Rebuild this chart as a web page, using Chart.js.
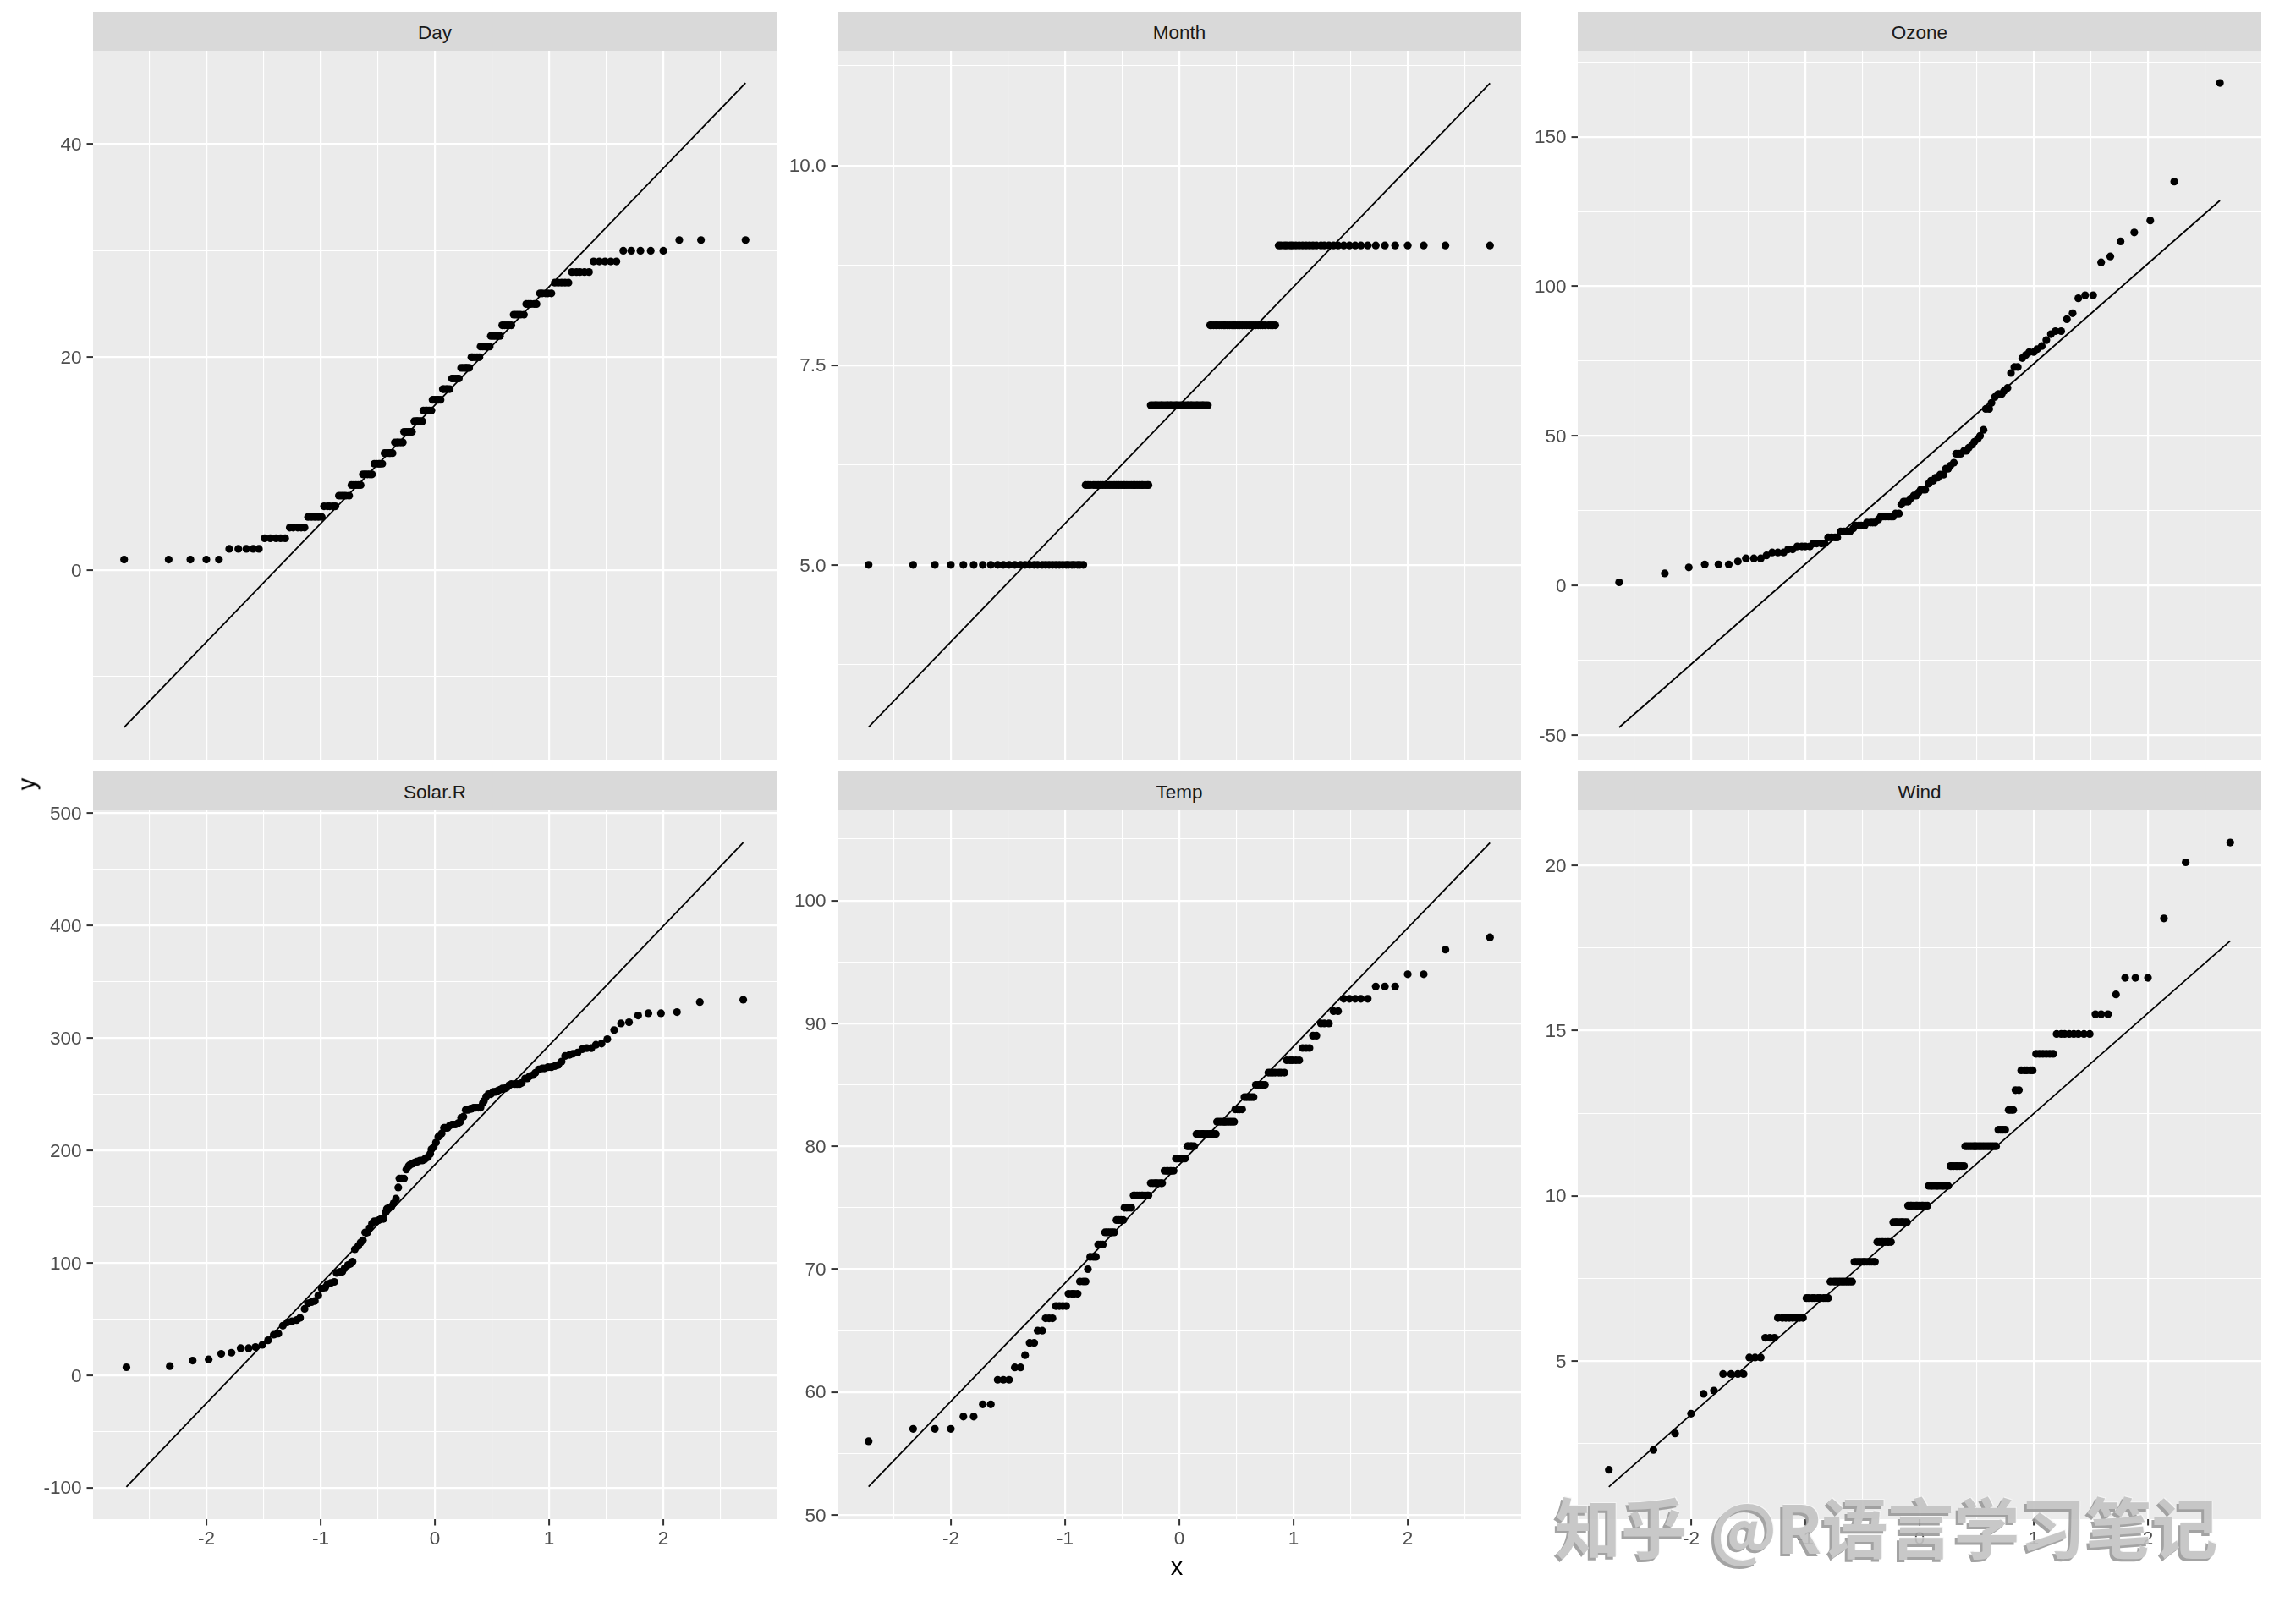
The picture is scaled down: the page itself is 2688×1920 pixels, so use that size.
<!DOCTYPE html>
<html><head><meta charset="utf-8">
<script src="https://cdn.jsdelivr.net/npm/chart.js@4.4.1/dist/chart.umd.min.js"></script>
<style>
html,body{margin:0;padding:0;background:#fff;width:2688px;height:1920px;overflow:hidden;position:relative;font-family:"Liberation Sans",Arial,sans-serif;}
.strip{position:absolute;background:#D9D9D9;color:#1A1A1A;font-size:22.5px;text-align:center;line-height:46px;height:46px;padding-top:2px;box-sizing:border-box;}
canvas{position:absolute;}
.title{position:absolute;color:#000;font-size:29px;line-height:29px;white-space:nowrap;}
.wm{position:absolute;left:1838px;top:1764px;font-family:"Noto Sans CJK SC",sans-serif;font-weight:700;font-size:78px;line-height:78px;color:#c2c2c2;white-space:nowrap;opacity:0.9;word-spacing:10px;text-shadow:-3px 3px 0 #9a9a9a,1px -1px 0 #f6f6f6;}
</style></head><body>
<script>
// ---- theoretical normal quantiles (x) for n = 153, 116, 146 ----
const q153 = [-2.72,-2.33,-2.14,-2.00,-1.89,-1.80,-1.72,-1.65,-1.59,-1.54,-1.49,-1.44,
-1.39,-1.35,-1.31,-1.27,-1.24,-1.20,-1.17,-1.14,-1.11,-1.08,-1.05,-1.02,
-0.99,-0.97,-0.94,-0.92,-0.89,-0.87,-0.84,-0.82,-0.80,-0.78,-0.75,-0.73,
-0.71,-0.69,-0.67,-0.65,-0.63,-0.61,-0.59,-0.57,-0.55,-0.53,-0.51,-0.49,
-0.48,-0.46,-0.44,-0.42,-0.40,-0.39,-0.37,-0.35,-0.33,-0.32,-0.30,-0.28,
-0.27,-0.25,-0.23,-0.21,-0.20,-0.18,-0.16,-0.15,-0.13,-0.11,-0.10,-0.08,
-0.07,-0.05,-0.03,-0.02,0.00,0.02,0.03,0.05,0.07,
0.08,0.10,0.11,0.13,0.15,0.16,0.18,0.20,0.21,0.23,0.25,0.27,
0.28,0.30,0.32,0.33,0.35,0.37,0.39,0.40,0.42,0.44,0.46,0.48,
0.49,0.51,0.53,0.55,0.57,0.59,0.61,0.63,0.65,0.67,0.69,0.71,
0.73,0.75,0.78,0.80,0.82,0.84,0.87,0.89,0.92,0.94,0.97,0.99,
1.02,1.05,1.08,1.11,1.14,1.17,1.20,1.24,1.27,1.31,1.35,1.39,
1.44,1.49,1.54,1.59,1.65,1.72,1.80,1.89,2.00,2.14,2.33,2.72];
const q116 = [-2.63,-2.23,-2.02,-1.88,-1.76,-1.67,-1.59,-1.52,-1.45,-1.39,-1.34,-1.29,
-1.24,-1.19,-1.15,-1.11,-1.07,-1.03,-1.00,-0.96,-0.93,-0.90,-0.86,-0.83,
-0.80,-0.77,-0.74,-0.72,-0.69,-0.66,-0.63,-0.61,-0.58,-0.56,-0.53,-0.51,
-0.48,-0.46,-0.43,-0.41,-0.39,-0.36,-0.34,-0.32,-0.30,-0.27,-0.25,-0.23,
-0.21,-0.18,-0.16,-0.14,-0.12,-0.10,-0.08,-0.05,-0.03,-0.01,
0.01,0.03,0.05,0.08,0.10,0.12,0.14,0.16,0.18,0.21,
0.23,0.25,0.27,0.30,0.32,0.34,0.36,0.39,0.41,0.43,0.46,0.48,
0.51,0.53,0.56,0.58,0.61,0.63,0.66,0.69,0.72,0.74,0.77,0.80,
0.83,0.86,0.90,0.93,0.96,1.00,1.03,1.07,1.11,1.15,1.19,1.24,
1.29,1.34,1.39,1.45,1.52,1.59,1.67,1.76,1.88,2.02,2.23,2.63];
const q146 = [-2.70,-2.32,-2.12,-1.98,-1.87,-1.78,-1.70,-1.63,-1.57,-1.51,-1.46,-1.41,
-1.37,-1.33,-1.29,-1.25,-1.21,-1.18,-1.14,-1.11,-1.08,-1.05,-1.02,-0.99,
-0.96,-0.94,-0.91,-0.88,-0.86,-0.83,-0.81,-0.79,-0.76,-0.74,-0.72,-0.70,
-0.67,-0.65,-0.63,-0.61,-0.59,-0.57,-0.55,-0.53,-0.51,-0.49,-0.47,-0.45,
-0.43,-0.42,-0.40,-0.38,-0.36,-0.34,-0.32,-0.31,-0.29,-0.27,-0.25,-0.23,
-0.22,-0.20,-0.18,-0.16,-0.15,-0.13,-0.11,-0.09,-0.08,-0.06,-0.04,-0.03,
-0.01,0.01,
0.03,0.04,0.06,0.08,0.09,0.11,0.13,0.15,0.16,0.18,0.20,0.22,
0.23,0.25,0.27,0.29,0.31,0.32,0.34,0.36,0.38,0.40,0.42,0.43,
0.45,0.47,0.49,0.51,0.53,0.55,0.57,0.59,0.61,0.63,0.65,0.67,
0.70,0.72,0.74,0.76,0.79,0.81,0.83,0.86,0.88,0.91,0.94,0.96,
0.99,1.02,1.05,1.08,1.11,1.14,1.18,1.21,1.25,1.29,1.33,1.37,
1.41,1.46,1.51,1.57,1.63,1.70,1.78,1.87,1.98,2.12,2.32,2.70];

// ---- sample values (y), sorted ----
const dayY = [1,1,1,1,1,2,2,2,2,2,3,3,3,3,3,4,4,4,4,4,5,5,5,5,5,6,6,6,6,6,7,7,7,7,7,8,8,8,8,8,9,9,9,9,9,10,10,10,10,10,
11,11,11,11,11,12,12,12,12,12,13,13,13,13,13,14,14,14,14,14,15,15,15,15,15,16,16,16,16,16,17,17,17,17,17,18,18,18,18,18,
19,19,19,19,19,20,20,20,20,20,21,21,21,21,21,22,22,22,22,22,23,23,23,23,23,24,24,24,24,24,25,25,25,25,25,26,26,26,26,26,
27,27,27,27,27,28,28,28,28,28,29,29,29,29,29,30,30,30,30,30,31,31,31];
const monthY = [5,5,5,5,5,5,5,5,5,5,5,5,5,5,5,5,5,5,5,5,5,5,5,5,5,5,5,5,5,5,5,
6,6,6,6,6,6,6,6,6,6,6,6,6,6,6,6,6,6,6,6,6,6,6,6,6,6,6,6,6,6,
7,7,7,7,7,7,7,7,7,7,7,7,7,7,7,7,7,7,7,7,7,7,7,7,7,7,7,7,7,7,7,
8,8,8,8,8,8,8,8,8,8,8,8,8,8,8,8,8,8,8,8,8,8,8,8,8,8,8,8,8,8,8,
9,9,9,9,9,9,9,9,9,9,9,9,9,9,9,9,9,9,9,9,9,9,9,9,9,9,9,9,9,9];
const ozoneY = [1,4,6,7,7,7,8,9,9,9,10,11,11,11,12,12,13,13,13,13,14,14,14,14,16,16,16,16,18,18,18,18,19,20,20,20,20,
21,21,21,21,22,23,23,23,23,23,23,24,24,27,28,28,28,29,30,30,31,32,32,32,34,35,35,36,36,37,37,39,39,40,41,44,44,44,
45,45,46,47,48,49,50,52,59,59,61,63,64,64,65,66,71,73,73,76,77,78,78,79,80,82,84,85,85,89,91,96,97,97,108,110,115,
118,122,135,168];
const solarY = [7,8,13,14,19,20,24,24,25,27,31,36,37,44,47,48,49,
51,59,64,65,66,71,77,78,81,82,83,91,92,92,95,98,99,
101,112,115,118,120,127,127,131,135,137,137,138,139,139,145,148,149,
150,153,157,167,175,175,175,183,186,187,188,189,190,190,191,191,192,193,194,197,
201,203,207,212,213,215,220,220,220,222,223,223,223,224,225,229,230,236,236,237,237,238,238,238,238,242,244,248,
250,250,252,252,253,254,255,255,256,258,259,259,259,259,260,264,264,266,267,269,272,273,273,274,274,275,276,279,
284,285,286,287,290,291,291,294,295,299,
307,313,314,320,322,322,323,332,334];
const tempY = [56,57,57,57,58,58,59,59,61,61,61,62,62,63,64,64,65,65,66,66,66,67,67,67,67,68,68,68,68,69,69,69,70,
71,71,71,72,72,72,73,73,73,73,73,74,74,74,74,75,75,75,75,
76,76,76,76,76,76,76,76,76,77,77,77,77,77,77,77,78,78,78,78,78,78,79,79,79,79,79,79,80,80,80,80,80,
81,81,81,81,81,81,81,81,81,81,81,82,82,82,82,82,82,82,82,82,83,83,83,83,84,84,84,84,84,85,85,85,85,85,
86,86,86,86,86,86,86,87,87,87,87,87,88,88,88,89,89,90,90,90,91,91,92,92,92,92,92,93,93,93,94,94,96,97];
const windY = [1.7,2.3,2.8,3.4,4.0,4.1,4.6,4.6,4.6,4.6,5.1,5.1,5.1,5.7,5.7,5.7,
6.3,6.3,6.3,6.3,6.3,6.3,6.3,6.3,
6.9,6.9,6.9,6.9,6.9,6.9,6.9,6.9,6.9,
7.4,7.4,7.4,7.4,7.4,7.4,7.4,7.4,7.4,7.4,
8.0,8.0,8.0,8.0,8.0,8.0,8.0,8.0,8.0,8.0,8.0,
8.6,8.6,8.6,8.6,8.6,8.6,8.6,8.6,
9.2,9.2,9.2,9.2,9.2,9.2,9.2,9.2,
9.7,9.7,9.7,9.7,9.7,9.7,9.7,9.7,9.7,9.7,9.7,
10.3,10.3,10.3,10.3,10.3,10.3,10.3,10.3,10.3,10.3,10.3,
10.9,10.9,10.9,10.9,10.9,10.9,10.9,10.9,
11.5,11.5,11.5,11.5,11.5,11.5,11.5,11.5,11.5,11.5,11.5,11.5,11.5,11.5,11.5,
12.0,12.0,12.0,12.0,12.6,12.6,12.6,13.2,13.2,
13.8,13.8,13.8,13.8,13.8,14.3,14.3,14.3,14.3,14.3,14.3,
14.9,14.9,14.9,14.9,14.9,14.9,14.9,14.9,
15.5,15.5,15.5,16.1,16.6,16.6,16.6,18.4,20.1,20.7];

// ---- reference-line end values (y at the first and last x) ----
const dayLine = [-14.75, 45.75];
const monthLine = [2.97, 11.03];
const ozoneLine = [-47.5, 128.7];
const solarLine = [-99.4, 473.9];
const tempLine = [52.3, 104.7];
const windLine = [1.18, 17.72];

// ---- tick values and labels ----
const xMajor = [-2,-1,0,1,2];
const xMinor = [-2.5,-1.5,-0.5,0.5,1.5,2.5];
const xLabels = ['-2','-1','0','1','2'];
const dayMajor = [0,20,40], dayMinor = [-10,10,30], dayLabels = ['0','20','40'];
const monthMajor = [5,7.5,10], monthMinor = [3.75,6.25,8.75,11.25], monthLabels = ['5.0','7.5','10.0'];
const ozoneMajor = [-50,0,50,100,150], ozoneMinor = [-25,25,75,125,175], ozoneLabels = ['-50','0','50','100','150'];
const solarMajor = [-100,0,100,200,300,400,500], solarMinor = [-50,50,150,250,350,450], solarLabels = ['-100','0','100','200','300','400','500'];
const tempMajor = [50,60,70,80,90,100], tempMinor = [55,65,75,85,95,105], tempLabels = ['50','60','70','80','90','100'];
const windMajor = [5,10,15,20], windMinor = [2.5,7.5,12.5,17.5], windLabels = ['5','10','15','20'];
const panelNames = ['Day','Month','Ozone','Solar.R','Temp','Wind'];

// ---- axis ranges ----
const xRange = [-2.992, 2.992];
const yRanges = [[-17.78,48.78],[2.563,11.437],[-58.26,178.77],[-128.07,502.56],[49.66,107.34],[0.205,21.676]];

// ---- layout ----
const colLeft = [110, 990, 1865];
const rowTop = [60, 958];
const PW = 808, PH = 838, STRIP = 46, YAXW = 110, PADT = 24, PADR = 6;

const panels = [
  {xs:q153, ys:dayY,   line:dayLine,   major:dayMajor,   minor:dayMinor,   labels:dayLabels},
  {xs:q153, ys:monthY, line:monthLine, major:monthMajor, minor:monthMinor, labels:monthLabels},
  {xs:q116, ys:ozoneY, line:ozoneLine, major:ozoneMajor, minor:ozoneMinor, labels:ozoneLabels},
  {xs:q146, ys:solarY, line:solarLine, major:solarMajor, minor:solarMinor, labels:solarLabels},
  {xs:q153, ys:tempY,  line:tempLine,  major:tempMajor,  minor:tempMinor,  labels:tempLabels},
  {xs:q153, ys:windY,  line:windLine,  major:windMajor,  minor:windMinor,  labels:windLabels}
];

function isMaj(arr, v){ return arr.some(a => Math.abs(a - v) < 1e-9); }
function labelFor(arr, labels, v){ for (let i = 0; i < arr.length; i++) if (Math.abs(arr[i] - v) < 1e-9) return labels[i]; return ''; }

const bgPlugin = {id:'panelBg', beforeDraw(chart){
  const a = chart.chartArea, ctx = chart.ctx;
  ctx.save(); ctx.fillStyle = '#EBEBEB'; ctx.fillRect(a.left, a.top, a.right - a.left, a.bottom - a.top); ctx.restore();
}};

const tickFont = {family:'"Liberation Sans", Arial, sans-serif', size:22.5};
const xAll = xMajor.concat(xMinor).sort((a,b)=>a-b);

panels.forEach((p, i) => {
  const col = i % 3, row = Math.floor(i / 3), bottom = row === 1;
  const left = colLeft[col], top = rowTop[row];
  // strip
  const s = document.createElement('div');
  s.className = 'strip';
  s.style.left = left + 'px'; s.style.top = (top - STRIP) + 'px'; s.style.width = PW + 'px';
  s.textContent = panelNames[i];
  document.body.appendChild(s);
  // canvas
  const padB = bottom ? 0 : 24, xAxisH = bottom ? 62 : 0;
  const cw = YAXW + PW + PADR, ch = PADT + PH + xAxisH + padB;
  const cv = document.createElement('canvas');
  cv.width = cw; cv.height = ch;
  cv.style.width = cw + 'px'; cv.style.height = ch + 'px';
  cv.style.left = (left - YAXW) + 'px'; cv.style.top = (top - PADT) + 'px';
  document.body.appendChild(cv);
  const pts = p.xs.map((x, k) => ({x: x, y: p.ys[k]}));
  const lineData = [{x: p.xs[0], y: p.line[0]}, {x: p.xs[p.xs.length - 1], y: p.line[1]}];
  const yAll = p.major.concat(p.minor).sort((a,b)=>a-b);
  new Chart(cv, {
    type: 'scatter',
    data: {datasets: [
      {type:'line', data: lineData, borderColor:'#000000', borderWidth:1.8, pointRadius:0, showLine:true, fill:false, tension:0, order:0},
      {type:'scatter', data: pts, pointRadius:4.6, pointHoverRadius:4.6, backgroundColor:'#000000', borderWidth:0, order:1}
    ]},
    options: {
      responsive:false, animation:false, events:[], devicePixelRatio:1,
      layout:{padding:{top:PADT, right:PADR, bottom:padB, left:0}},
      plugins:{legend:{display:false}, tooltip:{enabled:false}},
      scales:{
        x:{type:'linear', position:'bottom', min:xRange[0], max:xRange[1], bounds:'data',
          afterBuildTicks: sc => { sc.ticks = xAll.map(v => ({value:v})); },
          afterFit: sc => { sc.height = xAxisH; sc.paddingLeft = 0; sc.paddingRight = 0; },
          grid:{color:'#FFFFFF', lineWidth: c => isMaj(xMajor, c.tick.value) ? 2.2 : 1.1,
                drawTicks: bottom, tickLength:7.5, tickWidth:2,
                tickColor: c => isMaj(xMajor, c.tick.value) ? '#333333' : 'rgba(0,0,0,0)'},
          border:{display:false},
          ticks:{display: bottom, autoSkip:false, maxRotation:0, minRotation:0, padding:3, color:'#4D4D4D', font:tickFont,
                 callback: v => labelFor(xMajor, xLabels, v)}
        },
        y:{type:'linear', position:'left', min:yRanges[i][0], max:yRanges[i][1], bounds:'data',
          afterBuildTicks: sc => { sc.ticks = yAll.map(v => ({value:v})); },
          afterFit: sc => { sc.width = YAXW; sc.paddingTop = 0; sc.paddingBottom = 0; },
          grid:{color:'#FFFFFF', lineWidth: c => isMaj(p.major, c.tick.value) ? 2.2 : 1.1,
                drawTicks:true, tickLength:7.5, tickWidth:2,
                tickColor: c => isMaj(p.major, c.tick.value) ? '#333333' : 'rgba(0,0,0,0)'},
          border:{display:false},
          ticks:{autoSkip:false, padding:6, labelOffset:1.5, color:'#4D4D4D', font:tickFont,
                 callback: v => labelFor(p.major, p.labels, v)}
        }
      }
    },
    plugins:[bgPlugin]
  });
});

// axis titles
const xt = document.createElement('div');
xt.className = 'title'; xt.textContent = 'x';
xt.style.left = '1391px'; xt.style.top = '1838px'; xt.style.transform = 'translateX(-50%)';
document.body.appendChild(xt);
const yt = document.createElement('div');
yt.className = 'title'; yt.textContent = 'y';
yt.style.left = '32px'; yt.style.top = '927px'; yt.style.transform = 'translate(-50%,-50%) rotate(-90deg)';
document.body.appendChild(yt);
// watermark
const wm = document.createElement('div');
wm.className = 'wm'; wm.textContent = '知乎 @R语言学习笔记';
document.body.appendChild(wm);
</script>
</body></html>
